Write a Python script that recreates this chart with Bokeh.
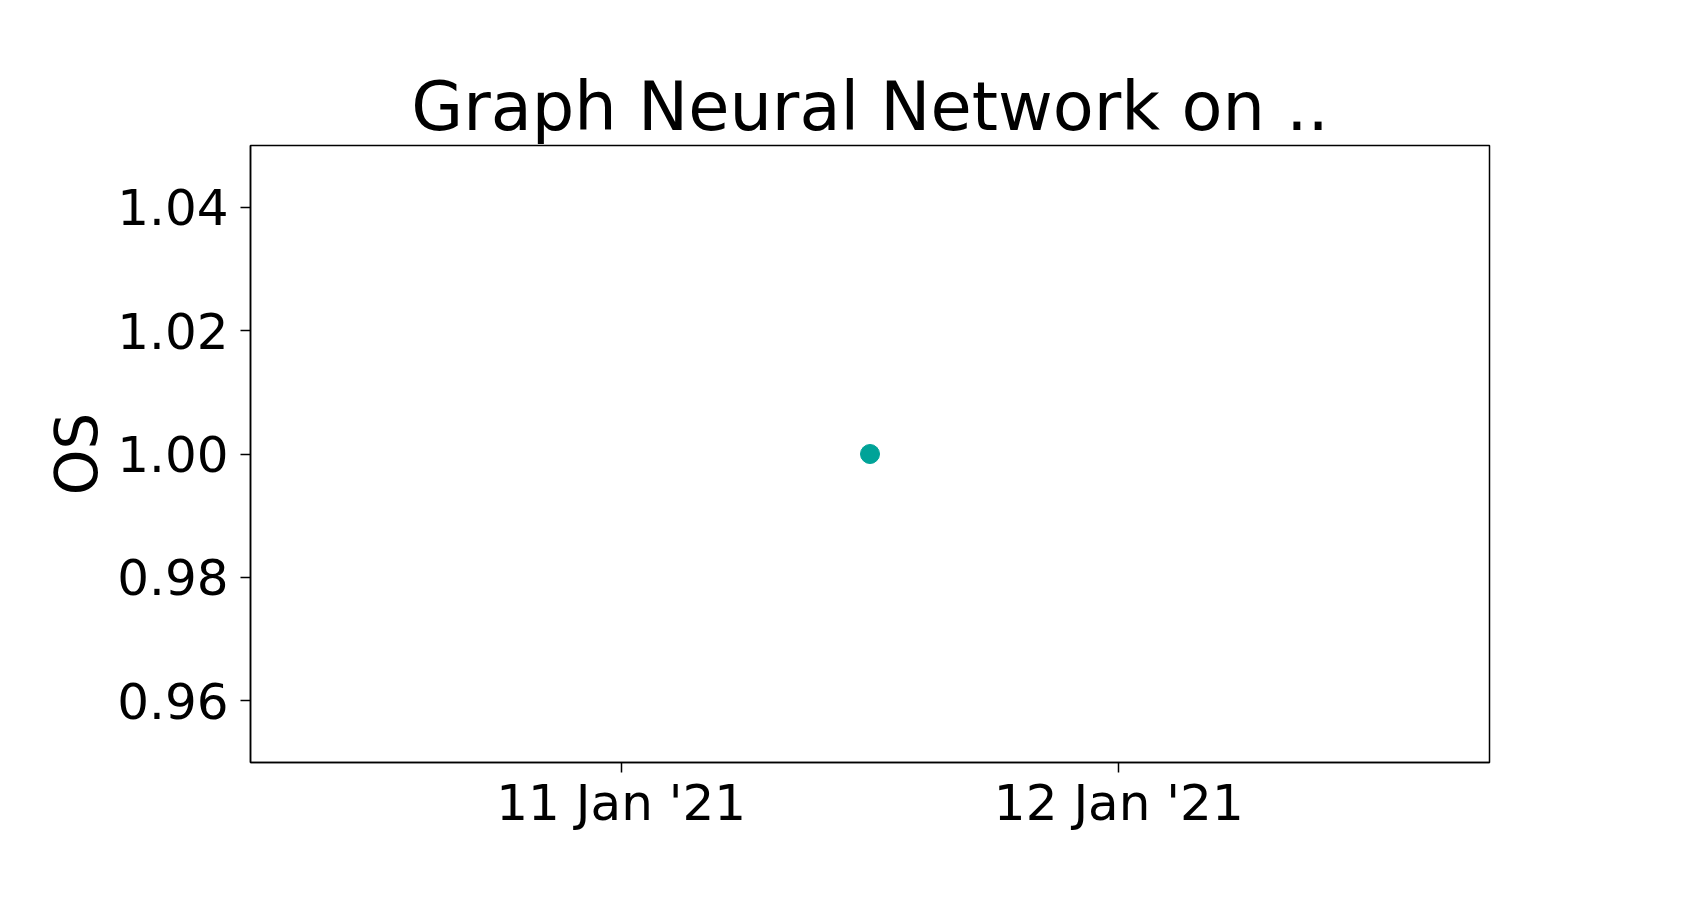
from datetime import datetime, timedelta

from bokeh.plotting import figure
from bokeh.models import ColumnDataSource, FixedTicker, DatetimeTickFormatter, PrintfTickFormatter, Range1d
from bokeh.embed import file_html
from bokeh.resources import INLINE

# datos del grafico (un solo punto)
fechas = [datetime(2021, 1, 11, 12, 0)]
valores_os = [1.0]
ticks_y = [0.96, 0.98, 1.00, 1.02, 1.04]
ticks_x = [datetime(2021, 1, 11), datetime(2021, 1, 12)]
titulo = "Graph Neural Network on .."
etiqueta_y = "OS"

FUENTE = "DejaVu Sans"

def to_ms(d):
    return (d - datetime(1970, 1, 1)).total_seconds() * 1000.0

src = ColumnDataSource(dict(fecha=fechas, os=valores_os))

medio = timedelta(days=1.245)
p = figure(width=1684, height=884, x_axis_type="datetime", output_backend="svg",
           toolbar_location=None, title=titulo,
           x_range=Range1d(fechas[0] - medio, fechas[0] + medio),
           y_range=Range1d(0.95, 1.05),
           min_border_left=250, min_border_right=195, min_border_top=145, min_border_bottom=122)

p.scatter(x="fecha", y="os", source=src, size=19, fill_color="#00a398", line_color="#00a398")

p.title.align = "center"
p.title.text_font = FUENTE
p.title.text_font_size = "67px"
p.title.text_font_style = "normal"
p.title.text_color = "black"
p.title.standoff = 0

p.xgrid.visible = False
p.ygrid.visible = False
p.outline_line_color = "black"
p.outline_line_width = 1.5
p.background_fill_color = "white"
p.border_fill_color = "white"

for ax in (p.xaxis[0], p.yaxis[0]):
    ax.axis_line_color = "black"
    ax.axis_line_width = 1.5
    ax.major_tick_line_color = "black"
    ax.major_tick_line_width = 1.5
    ax.major_tick_out = 10
    ax.major_tick_in = 0
    ax.minor_tick_line_color = None
    ax.major_label_text_font = FUENTE
    ax.major_label_text_font_size = "50px"
    ax.major_label_text_color = "black"

p.xaxis.ticker = FixedTicker(ticks=[to_ms(t) for t in ticks_x])
p.xaxis.formatter = DatetimeTickFormatter(days="%d %b '%y", hours="%d %b '%y")
p.xaxis.major_label_standoff = 1

p.yaxis.ticker = FixedTicker(ticks=ticks_y)
p.yaxis.formatter = PrintfTickFormatter(format="%.2f")
p.yaxis.major_label_standoff = 12
p.yaxis.axis_label = etiqueta_y
p.yaxis.axis_label_text_font = FUENTE
p.yaxis.axis_label_text_font_size = "58px"
p.yaxis.axis_label_text_font_style = "normal"
p.yaxis.axis_label_text_color = "black"
p.yaxis.axis_label_standoff = 3

open("out.html", "w").write(file_html(p, INLINE))
